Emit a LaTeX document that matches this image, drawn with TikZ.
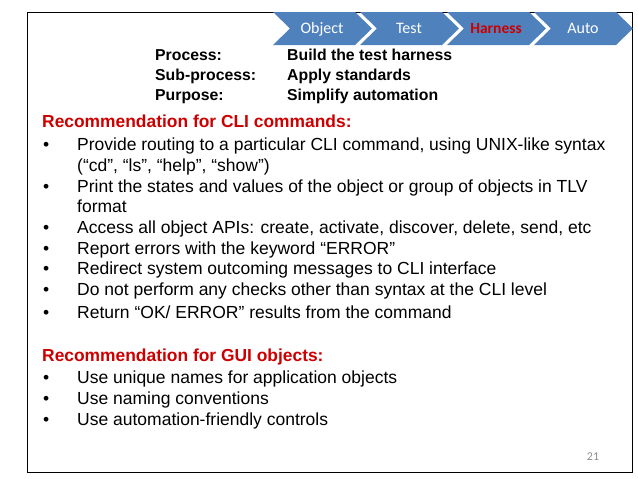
\documentclass[tikz,border=0pt]{standalone}
\usepackage{fontspec}
\setmainfont{Liberation Sans}
\newfontfamily\stagefont{Carlito}
\usetikzlibrary{positioning}
\definecolor{stageblue}{RGB}{79,129,189}
\definecolor{recred}{RGB}{204,0,0}
\definecolor{pagegrey}{RGB}{140,140,140}
\begin{document}
\begin{tikzpicture}[
      x=1pt,y=-1pt,
      every node/.style={inner sep=0pt,anchor=base west},
      stage/.style={fill=stageblue},
      stagelabel/.style={anchor=base,text=white,font=\stagefont\fontsize{16}{16}\selectfont},
      current/.style={stagelabel,text=recred,font=\stagefont\bfseries\fontsize{15.5}{15.5}\selectfont},
      meta/.style={font=\bfseries\fontsize{15.8}{15.8}\selectfont},
      heading/.style={text=recred,font=\bfseries\fontsize{17.4}{17.4}\selectfont},
      item/.style={font=\fontsize{17.5}{17.5}\selectfont}
    ]
      \useasboundingbox (0,0) rectangle (638,479);
      \draw[line width=1pt] (27,12) rectangle (632,472);
      % process stages
      \foreach \s/\name/\lbl/\sty in {273/obj/Object/stagelabel,360/test/Test/stagelabel,
          447/harness/Harness/current,534/auto/Auto/stagelabel}{
        \fill[stage] (\s,12) -- ++(82,0) -- ++(17,16.5) -- ++(-17,16.5) -- ++(-82,0)
          -- ++(17,-16.5) -- cycle;
        \node[\sty] (\name) at (\s+49,33) {\lbl};
      }
      \node[meta] (proc) at (155,60) {Process:};
      \node[meta] (subproc) at (155,80) {Sub-process:};
      \node[meta] (purp) at (155,100) {Purpose:};
      \node[meta] (procval) at (287,60) {Build the test harness};
      \node[meta] (subprocval) at (287,80) {Apply standards};
      \node[meta] (purpval) at (287,100) {Simplify automation};
      % CLI
      \node[heading] (cli) at (42,127) {Recommendation for CLI commands:};
      \foreach \y/\name/\txt in {150/route/{Provide routing to a particular CLI command, using UNIX-like syntax},
          192/print/{Print the states and values of the object or group of objects in TLV},
          233/access/{Access all object APIs: create, activate, discover, delete, send, etc},
          254/report/{Report errors with the keyword “ERROR”},
          274/redirect/{Redirect system outcoming messages to CLI interface},
          295/nocheck/{Do not perform any checks other than syntax at the CLI level},
          318/ret/{Return “OK/ ERROR” results from the command}}{
        \node[item] (b\name) at (43,\y) {•};
        \node[item] (\name) at (77,\y) {\txt};
      }
      \node[item] (route2) at (77,171) {(“cd”, “ls”, “help”, “show”)};
      \node[item] (print2) at (77,212) {format};
      % GUI
      \node[heading] (gui) at (42,361) {Recommendation for GUI objects:};
      \foreach \y/\name/\txt in {383/unique/{Use unique names for application objects},
          404/naming/{Use naming conventions},
          425/friendly/{Use automation-friendly controls}}{
        \node[item] (b\name) at (43,\y) {•};
        \node[item] (\name) at (77,\y) {\txt};
      }
      \node[anchor=base,text=pagegrey,font=\stagefont\fontsize{12}{12}\selectfont] (page) at (593,460) {21};
    \end{tikzpicture}
\end{document}
